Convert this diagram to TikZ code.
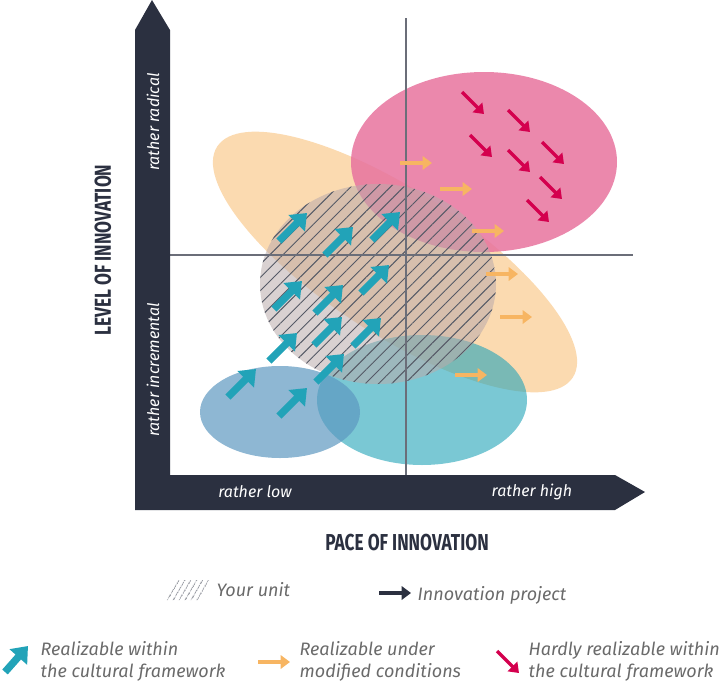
\documentclass[tikz,border=0pt]{standalone}
\usepackage{fontspec}
\setmainfont{Fira Sans}
\usetikzlibrary{arrows.meta,patterns.meta}
\definecolor{axis}{HTML}{2B3040}
\definecolor{txt}{HTML}{6A6A6A}
\definecolor{tealA}{HTML}{22A3B8}
\definecolor{orangeA}{HTML}{F7B562}
\definecolor{redA}{HTML}{D4004E}
\definecolor{blueA}{HTML}{5E98C0}
\definecolor{unitA}{HTML}{B9ABAB}
\tikzset{
  teal arrow/.style={tealA, line width=5.5pt, -{Triangle[length=11pt,width=17pt]}},
  orange arrow/.style={orangeA, line width=2.6pt, -{Triangle[length=7pt,width=10pt]}},
  red arrow/.style={redA, line width=2.6pt, -{Triangle[length=7pt,width=10pt]}},
  band label/.style={white, font=\itshape\large},
  legend/.style={txt, font=\itshape\fontsize{13.5}{16.5}\selectfont, align=left, anchor=west}
}
\begin{document}
\begin{tikzpicture}[x=0.75pt,y=-0.75pt]
\useasboundingbox (0,0) rectangle (726,683);

% ellipses
\fill[orangeA, opacity=0.5, rotate around={-33:(395,262)}] (395,262) ellipse [x radius=212, y radius=72];
\fill[redA!55!white, opacity=0.85] (484,162) ellipse [x radius=133, y radius=90];
\fill[tealA, opacity=0.6] (422,400) ellipse [x radius=105, y radius=65];
\fill[blueA, opacity=0.7] (280,412) ellipse [x radius=80, y radius=46];
\fill[unitA, opacity=0.55] (378,284) ellipse [x radius=118, y radius=100];
\fill[pattern={Lines[angle=45,distance=7pt,line width=0.7pt]}, pattern color=axis!80] (378,284) ellipse [x radius=118, y radius=100];

% quadrant lines
\draw[axis!70, line width=0.8pt] (406,18) -- (406,475);
\draw[axis!70, line width=0.8pt] (170,255) -- (633,255);

% axes
\fill[axis] (135,510) -- (135,30) -- (152,0) -- (170,30) -- (170,475) -- (615,475) -- (645,492) -- (615,510) -- cycle;
\node (radical) at (153,122) [band label, rotate=90]{rather radical};
\node (incremental) at (153,370) [band label, rotate=90]{rather incremental};
\node (low) at (255,492) [band label]{rather low};
\node (high) at (532,492) [band label]{rather high};
\node (level) at (103,250) [axis, rotate=90, font=\bfseries\LARGE, xscale=0.75]{LEVEL OF INNOVATION};
\node (pace) at (407,543) [axis, font=\bfseries\LARGE, xscale=0.75]{PACE OF INNOVATION};

% projects
\foreach \x/\y in {307/213, 353/227, 400/212, 302/281, 343/285, 389/265, 297/333, 342/317, 381/318, 344/354, 256/369, 307/388}
  \draw[teal arrow] (\x-28,\y+28) -- (\x,\y);
\foreach \x/\y in {400/163, 440/189, 472/231, 486/274, 500/317, 455/375}
  \draw[orange arrow] (\x,\y) -- (\x+32,\y);
\foreach \x/\y in {462/92, 508/110, 542/142, 470/135, 508/150, 540/177, 527/200}
  \draw[red arrow] (\x,\y) -- (\x+22,\y+22);

% legend
\fill[pattern={Lines[angle=60,distance=4pt,line width=0.5pt]}, pattern color=axis!80] (165,600) -- (178,580) -- (212,580) -- (199,600) -- cycle;
\node (unit) at (212,590) [legend]{Your unit};
\draw[axis, line width=2.6pt, -{Triangle[length=7pt,width=10pt]}] (379,593) -- (411,593);
\node (project) at (413,595) [legend]{Innovation project};
\draw[teal arrow] (5,672) -- (28,646);
\node (within) at (36,661) [legend]{Realizable within\\the cultural framework};
\draw[orange arrow] (258,662) -- (290,662);
\node (modified) at (295,661) [legend]{Realizable under\\modified conditions};
\draw[red arrow] (497,651) -- (519,673);
\node (hardly) at (524,661) [legend]{Hardly realizable within\\the cultural framework};
\end{tikzpicture}
\end{document}
